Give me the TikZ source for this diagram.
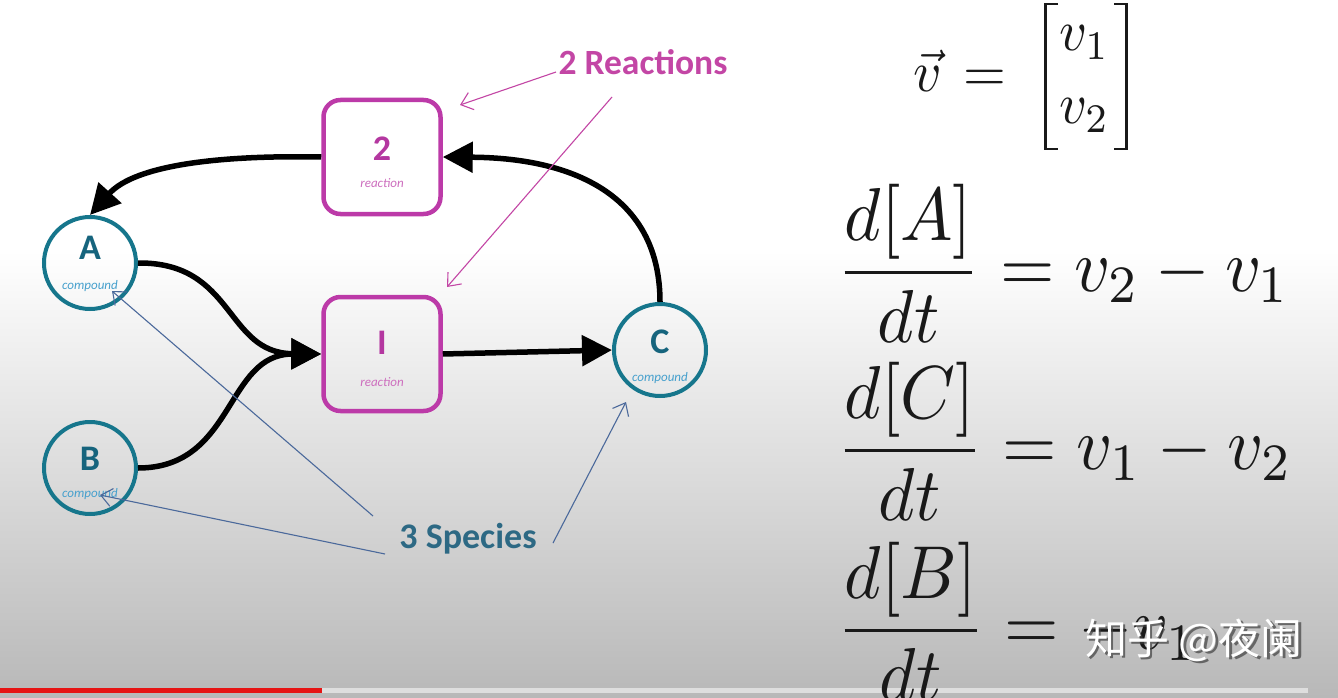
\documentclass[tikz,border=0pt]{standalone}
\usepackage{amsmath}
\usepackage{graphicx}
\usepackage{fontspec}
\setsansfont{Carlito}
\newfontfamily\cjkfont{Noto Sans CJK SC}
\usetikzlibrary{arrows.meta}
\definecolor{tealc}{RGB}{22,118,140}
\definecolor{tealt}{RGB}{22,100,125}
\definecolor{compc}{RGB}{70,160,205}
\definecolor{magc}{RGB}{188,58,168}
\definecolor{magt}{RGB}{180,55,160}
\definecolor{reacc}{RGB}{205,110,190}
\definecolor{annm}{RGB}{195,70,165}
\definecolor{anns}{RGB}{45,105,132}
\definecolor{annb}{RGB}{75,105,155}
\definecolor{bggray}{RGB}{184,184,184}
\definecolor{barred}{RGB}{230,20,20}
\definecolor{barlight}{RGB}{222,222,222}
\definecolor{mathc}{RGB}{25,25,25}
\tikzset{
  species/.style={circle, draw=tealc, line width=4pt, minimum size=92pt, inner sep=0pt},
  reactbox/.style={rectangle, rounded corners=17pt, draw=magc, line width=4.5pt, minimum width=117pt, minimum height=114pt},
  letter/.style={font=\sffamily\bfseries\fontsize{36}{40}\selectfont, text=tealt, inner sep=0pt},
  rnum/.style={font=\sffamily\bfseries\fontsize{36}{40}\selectfont, text=magt, inner sep=0pt},
  comp/.style={font=\sffamily\itshape\fontsize{13}{15}\selectfont, text=compc, inner sep=0pt},
  reac/.style={font=\sffamily\itshape\fontsize{13}{15}\selectfont, text=reacc, inner sep=0pt},
  flow/.style={line width=5.5pt, -{Triangle[length=30pt,width=30pt]}},
  annmag/.style={draw=annm, line width=1.1pt, -{Straight Barb[length=11pt,width=18pt,line width=1.1pt]}},
  annblue/.style={draw=annb, line width=1.1pt, -{Straight Barb[length=11pt,width=18pt,line width=1.1pt]}},
  eq/.style={inner sep=0pt, anchor=base west, text=mathc, font=\fontsize{10}{12}\selectfont},
  bracket/.style={draw=mathc, line width=2.8pt, line cap=butt, line join=miter}
}
\begin{document}
\begin{tikzpicture}[x=1pt,y=-1pt]
\useasboundingbox (0,0) rectangle (1338,698);
% background
\fill[white] (0,0) rectangle (1338,250);
\shade[top color=white, bottom color=bggray] (0,250) rectangle (1338,698);
% progress bar
\fill[barlight] (322,688) rectangle (1308,693);
\fill[barred] (0,688) rectangle (322,693);

% species and reactions
\node[species] (A) at (90,263) {};
\node[species] (B) at (90,468) {};
\node[species] (C) at (660,350) {};
\node[reactbox] (R2) at (382,157) {};
\node[reactbox] (R1) at (382,354) {};

\node[letter] (Al) at (90,248) {A};
\node[comp] (Ac) at (90,286) {compound};
\node[letter] (Bl) at (90,459) {B};
\node[comp] (Bc) at (90,494) {compound};
\node[letter] (Cl) at (660,342) {C};
\node[comp] (Cc) at (660,378) {compound};
\node[rnum] (R2l) at (382,149) {2};
\node[reac] (R2c) at (382,183) {reaction};
\node[rnum] (R1l) at (382,343) {I};
\node[reac] (R1c) at (382,382) {reaction};

% flows
\draw[flow] (R2.west) .. controls (220,155) and (135,165) .. (A.north);
\draw[flow] (C.north) .. controls (660,200) and (580,158) .. (R2.east);
\draw[flow] (A.east) .. controls (235,262) and (225,353) .. (R1.west);
\draw[flow] (B.east) .. controls (235,468) and (225,354) .. (R1.west);
\draw[flow] (R1.east) -- (C.west);

% annotations
\node[font=\sffamily\bfseries\fontsize{35.5}{40}\selectfont, text=annm, anchor=base, inner sep=0pt] (reactions) at (643,75) {2 Reactions};
\node[font=\sffamily\bfseries\fontsize{36}{40}\selectfont, text=anns, anchor=base, inner sep=0pt] (species) at (468,548) {3 Species};
\coordinate (rm1) at (556,72);
\coordinate (rm2) at (612,97);
\coordinate (ra1) at (460,105);
\coordinate (ra2) at (447,287);
\draw[annmag] (rm1) -- (ra1);
\draw[annmag] (rm2) -- (ra2);
\coordinate (sm1) at (373,516);
\coordinate (sm2) at (385,554);
\coordinate (sm3) at (553,543);
\coordinate (sa1) at (112,291);
\coordinate (sa2) at (100,495);
\coordinate (sa3) at (626,402);
\draw[annblue] (sm1) -- (sa1);
\draw[annblue] (sm2) -- (sa2);
\draw[annblue] (sm3) -- (sa3);

% rate vector
\node[eq] (vec) at (913,92) {\scalebox{5.5}[5.8]{$\vec{v}$}};
\node[eq] (veq) at (963,92) {\scalebox{5.5}[5.8]{$=$}};
\node[eq] (v1) at (1059,51) {\scalebox{5.4}[5.8]{$v_1$}};
\node[eq] (v2) at (1059,124) {\scalebox{5.4}[5.8]{$v_2$}};
\draw[bracket] (1058,4) -- (1045.5,4) -- (1045.5,149) -- (1058,149);
\draw[bracket] (1114,4) -- (1126.5,4) -- (1126.5,149) -- (1114,149);

% balance equations
\node[eq] (e1) at (836,291) {\scalebox{7.0}[7.5]{$\displaystyle \frac{d[A]}{dt} = v_2 - v_1$}};
\node[eq] (e2) at (836,469) {\scalebox{7.0}[7.5]{$\displaystyle \frac{d[C]}{dt} = v_1 - v_2$}};
\node[eq] (e3) at (836,649) {\scalebox{7.0}[7.5]{$\displaystyle \frac{d[B]}{dt} = -v_1$}};

% watermark
\node[font=\cjkfont\fontsize{42}{48}\selectfont, text=black!75, opacity=0.7, inner sep=0pt] (wms) at (1196.5,642.5) {知乎 @夜阑};
\node[font=\cjkfont\fontsize{42}{48}\selectfont, text=white, inner sep=0pt] (wm) at (1194,640) {知乎 @夜阑};
\end{tikzpicture}
\end{document}
